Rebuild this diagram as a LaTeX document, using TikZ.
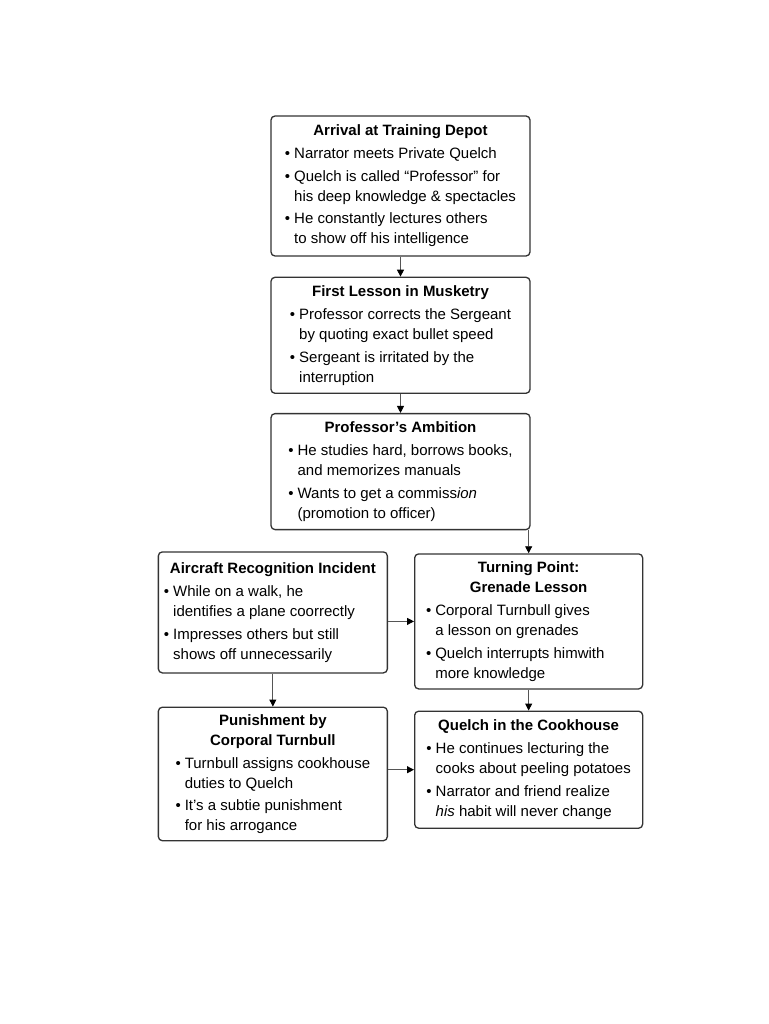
\documentclass[tikz,border=0pt]{standalone}
\usepackage{fontspec}
\setmainfont{Liberation Sans}
\usetikzlibrary{positioning,arrows.meta}
\definecolor{boxline}{HTML}{333333}
\definecolor{arrowline}{HTML}{555555}

\begin{document}
\begin{tikzpicture}[x=1pt, y=1pt,
  every node/.style={font=\fontsize{15}{20}\selectfont},
  stage/.style={draw=boxline, line width=1.3pt, fill=white, rounded corners=4pt, inner sep=4pt, align=center},
  flow/.style={-{Triangle[length=7pt, width=7pt, color=black]}, line width=0.9pt, draw=arrowline}]
  \useasboundingbox (0,0) rectangle (768,-1024);

  \node[stage, minimum width=259pt, minimum height=140pt] (arrival) at (400.5,-186) {%
    \begin{tabular}{@{}l@{\hspace{4pt}}l@{}}
    \multicolumn{2}{c}{\bfseries Arrival at Training Depot}\\[3pt]
    \textbullet & Narrator meets Private Quelch\\[2.5pt]
    \textbullet & Quelch is called “Professor” for\\
                & his deep knowledge \& spectacles\\[2.5pt]
    \textbullet & He constantly lectures others\\
                & to show off his intelligence
    \end{tabular}};
  \node[stage, minimum width=259pt, minimum height=116pt, below=20pt of arrival] (musketry) {%
    \begin{tabular}{@{}l@{\hspace{4pt}}l@{}}
    \multicolumn{2}{c}{\bfseries First Lesson in Musketry}\\[3pt]
    \textbullet & Professor corrects the Sergeant\\
                & by quoting exact bullet speed\\[2.5pt]
    \textbullet & Sergeant is irritated by the\\
                & interruption
    \end{tabular}};
  \node[stage, minimum width=259pt, minimum height=116pt, below=19pt of musketry] (ambition) {%
    \begin{tabular}{@{}l@{\hspace{4pt}}l@{}}
    \multicolumn{2}{c}{\bfseries Professor’s Ambition}\\[3pt]
    \textbullet & He studies hard, borrows books,\\
                & and memorizes manuals\\[2.5pt]
    \textbullet & Wants to get a commiss\textit{ion}\\
                & (promotion to officer)
    \end{tabular}};

  \node[stage, minimum width=228pt, minimum height=135pt, below=23pt of ambition.south east, xshift=-2pt] (turning) {%
    \begin{tabular}{@{}l@{\hspace{4pt}}p{196pt}@{}}
    \multicolumn{2}{c}{\bfseries Turning Point:}\\
    \multicolumn{2}{c}{\bfseries Grenade Lesson}\\[3pt]
    \textbullet & Corporal Turnbull gives\\
                & a lesson on grenades\\[2.5pt]
    \textbullet & Quelch interrupts himwith\\
                & more knowledge
    \end{tabular}};
  \node[stage, minimum width=229pt, minimum height=121pt, left=26pt of turning.north west, anchor=north east, yshift=2pt] (aircraft) {%
    \begin{tabular}{@{}l@{\hspace{4pt}}l@{}}
    \multicolumn{2}{c}{\bfseries Aircraft Recognition Incident}\\[3pt]
    \textbullet & While on a walk, he\\
                & identifies a plane coorrectly\\[2.5pt]
    \textbullet & Impresses others but still\\
                & shows off unnecessarily
    \end{tabular}};
  \node[stage, minimum width=229pt, minimum height=133pt, below=33pt of aircraft] (punishment) {%
    \begin{tabular}{@{}l@{\hspace{4pt}}l@{}}
    \multicolumn{2}{c}{\bfseries Punishment by}\\
    \multicolumn{2}{c}{\bfseries Corporal Turnbull}\\[3pt]
    \textbullet & Turnbull assigns cookhouse\\
                & duties to Quelch\\[2.5pt]
    \textbullet & It’s a subtie punishment\\
                & for his arrogance
    \end{tabular}};
  \node[stage, minimum width=228pt, minimum height=117pt, below=21pt of turning] (cookhouse) {%
    \begin{tabular}{@{}l@{\hspace{4pt}}l@{}}
    \multicolumn{2}{c}{\bfseries Quelch in the Cookhouse}\\[3pt]
    \textbullet & He continues lecturing the\\
                & cooks about peeling potatoes\\[2.5pt]
    \textbullet & Narrator and friend realize\\
                & \textit{his} habit will never change
    \end{tabular}};

  \draw[flow] (arrival.south) -- (musketry.north);
  \draw[flow] (musketry.south) -- (ambition.north);
  \draw[flow] (ambition.south east -| turning.north) -- (turning.north);
  \draw[flow] (aircraft.east |- turning.west) -- (turning.west);
  \draw[flow] (aircraft.south) -- (punishment.north);
  \draw[flow] (turning.south) -- (cookhouse.north);
  \draw[flow] (punishment.east |- cookhouse.west) -- (cookhouse.west);
\end{tikzpicture}
\end{document}
